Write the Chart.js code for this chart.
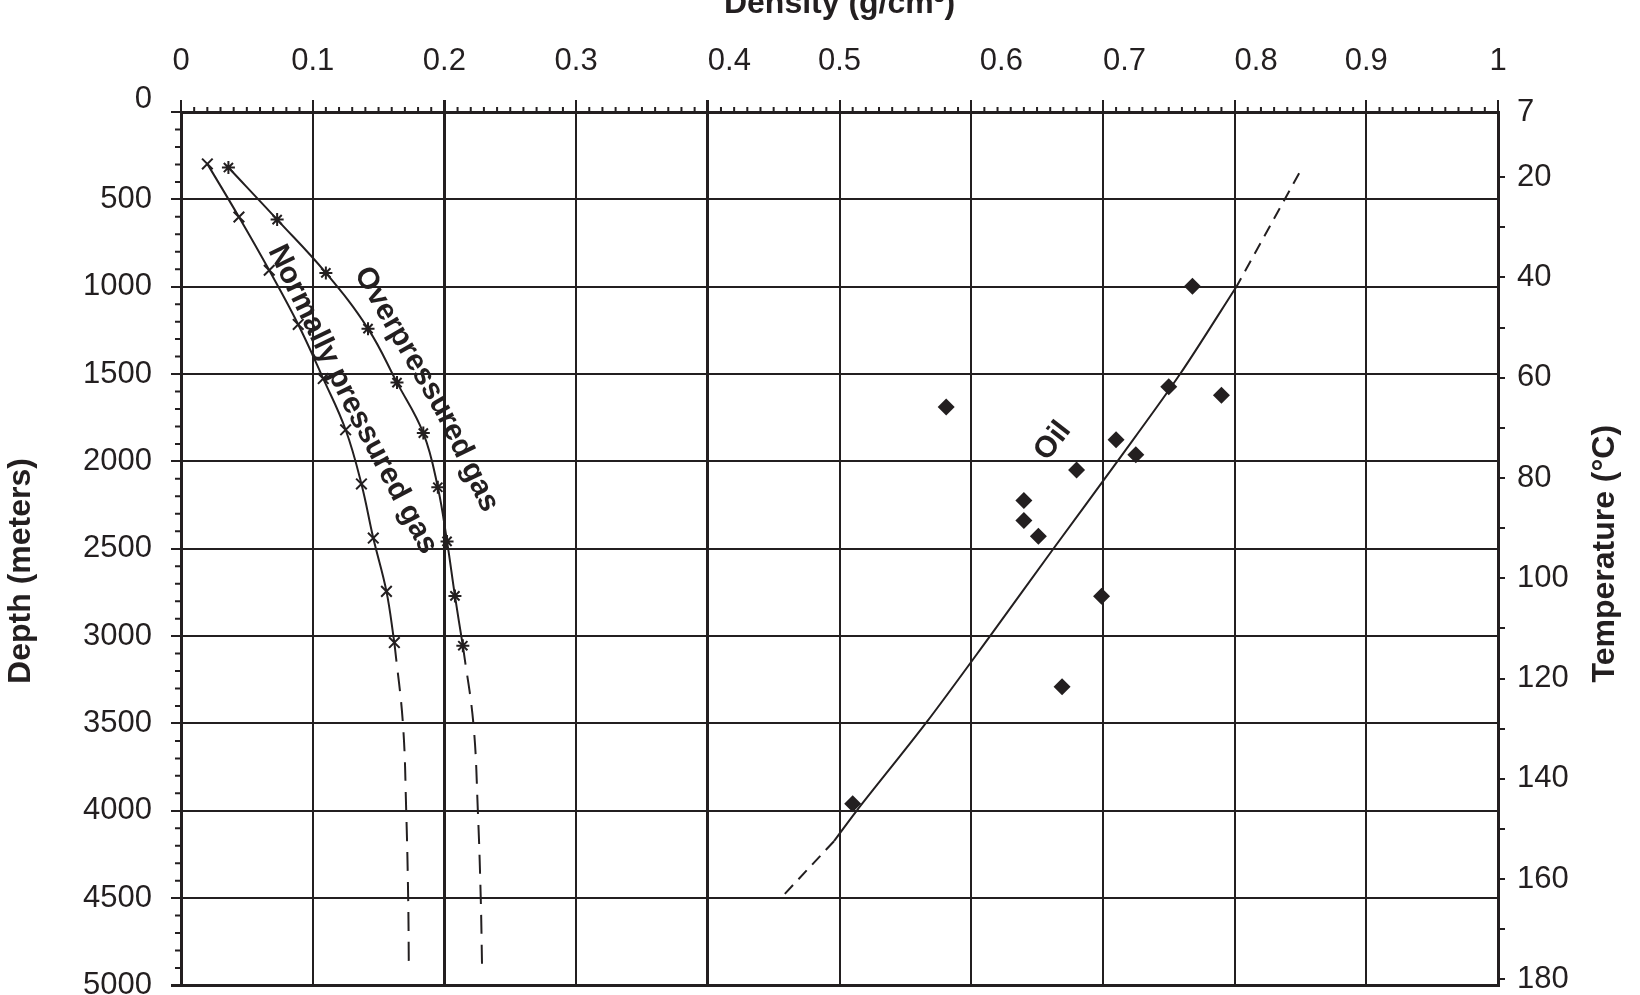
<!DOCTYPE html>
<html>
<head>
<meta charset="utf-8">
<script src="https://cdn.jsdelivr.net/npm/chart.js@4/dist/chart.umd.min.js"></script>
<style>
  html, body { margin: 0; padding: 0; background: #fff; }
  #wrap { width: 1640px; height: 995px; position: relative; }
</style>
</head>
<body>
<div id="wrap"><canvas id="densityChart"></canvas></div>
<script>
// ---- data ----
const densityTicks = [0, 0.1, 0.2, 0.3, 0.4, 0.5, 0.6, 0.7, 0.8, 0.9, 1];
const densityTickLabels = ["0", "0.1", "0.2", "0.3", "0.4", "0.5", "0.6", "0.7", "0.8", "0.9", "1"];
const depthTicks = [0, 500, 1000, 1500, 2000, 2500, 3000, 3500, 4000, 4500, 5000];
const depthTickLabels = ["0", "500", "1000", "1500", "2000", "2500", "3000", "3500", "4000", "4500", "5000"];
const tempTicks = [7, 20, 30, 40, 50, 60, 70, 80, 90, 100, 110, 120, 130, 140, 150, 160, 170, 180];
const tempTickLabels = ["7", "20", "", "40", "", "60", "", "80", "", "100", "", "120", "", "140", "", "160", "", "180"];

// normally pressured gas (x markers)
const normalGasDensity = [0.020, 0.044, 0.067, 0.089, 0.108, 0.125, 0.137, 0.146, 0.156, 0.162];
const normalGasDepth = [297, 601, 906, 1216, 1526, 1819, 2129, 2439, 2744, 3037];
const normalGasExtDensity = [0.162, 0.1685, 0.171, 0.1725, 0.173];
const normalGasExtDepth = [3037, 3500, 4000, 4500, 4895];

// overpressured gas (asterisk markers)
const overGasDensity = [0.036, 0.073, 0.110, 0.142, 0.164, 0.184, 0.195, 0.202, 0.208, 0.214];
const overGasDepth = [318, 616, 921, 1240, 1549, 1838, 2148, 2458, 2770, 3055];
const overGasExtDensity = [0.214, 0.222, 0.2254, 0.2276, 0.2286];
const overGasExtDepth = [3055, 3500, 4000, 4500, 4895];

// oil samples (diamonds)
const oilDensity = [0.768, 0.581, 0.750, 0.790, 0.710, 0.725, 0.680, 0.640, 0.640, 0.651, 0.699, 0.669, 0.510];
const oilDepth = [997, 1688, 1572, 1621, 1876, 1962, 2049, 2224, 2338, 2428, 2772, 3290, 3959];

// oil trend
const oilTrendDensity = [0.8016, 0.7586, 0.711, 0.6624, 0.6143, 0.5654, 0.513, 0.4958];
const oilTrendDepth = [997, 1500, 2000, 2500, 3000, 3500, 4000, 4174];
const oilTrendTopDensity = [0.849, 0.8016];
const oilTrendTopDepth = [350, 997];
const oilTrendBottomDensity = [0.4958, 0.4548];
const oilTrendBottomDepth = [4174, 4505];

const INK = "#231f20";
const FONT = "'Liberation Sans', Arial, Helvetica, sans-serif";

function pts(xs, ys) {
  return xs.map((v, i) => ({ x: v, y: ys[i] }));
}

function labelFor(values, labels, v) {
  const i = values.findIndex((t) => Math.abs(t - v) < 1e-6);
  return i < 0 ? "" : labels[i];
}

// labels written along the curves (path given in density/depth)
const curveLabels = [
  { text: "Normally pressured gas", path: [[0.0734, 800], [0.128, 1650], [0.187, 2490]] },
  { text: "Overpressured gas", path: [[0.1359, 890], [0.1997, 1718], [0.236, 2290]] },
  { text: "Oil", path: [[0.648, 2018], [0.676, 1749]] },
];

const curveLabelPlugin = {
  id: "curveLabels",
  afterDatasetsDraw(chart) {
    const { ctx } = chart;
    const xs = chart.scales.x, ys = chart.scales.y;
    ctx.save();
    ctx.fillStyle = INK;
    ctx.font = "bold 30px " + FONT;
    ctx.textAlign = "center";
    ctx.textBaseline = "middle";
    curveLabels.forEach((lab) => {
      const p = lab.path.map((q) => [xs.getPixelForValue(q[0]), ys.getPixelForValue(q[1])]);
      const seg = [];
      let total = 0;
      for (let i = 1; i < p.length; i++) {
        const len = Math.hypot(p[i][0] - p[i - 1][0], p[i][1] - p[i - 1][1]);
        seg.push(len);
        total += len;
      }
      let s = (total - ctx.measureText(lab.text).width) / 2;
      for (const ch of lab.text) {
        const cw = ctx.measureText(ch).width;
        const at = s + cw / 2;
        let acc = 0, i = 0;
        while (i < seg.length - 1 && acc + seg[i] < at) { acc += seg[i]; i++; }
        const t = (at - acc) / seg[i];
        const [x0, y0] = p[i], [x1, y1] = p[i + 1];
        ctx.save();
        ctx.translate(x0 + (x1 - x0) * t, y0 + (y1 - y0) * t);
        ctx.rotate(Math.atan2(y1 - y0, x1 - x0));
        ctx.fillText(ch, 0, 0);
        ctx.restore();
        s += cw;
      }
    });
    ctx.restore();
  },
};

// small ticks on the depth and density axes, and the right axis title
const axisExtrasPlugin = {
  id: "axisExtras",
  afterDraw(chart) {
    const { ctx, chartArea } = chart;
    const xs = chart.scales.x, ys = chart.scales.y;
    ctx.save();
    ctx.strokeStyle = INK;
    ctx.lineWidth = 2;
    ctx.beginPath();
    for (let d = 100; d < 5000; d += 100) {
      if (d % 500 === 0) continue;
      const py = ys.getPixelForValue(d);
      ctx.moveTo(chartArea.left - 6, py);
      ctx.lineTo(chartArea.left, py);
    }
    for (let i = 1; i < 100; i++) {
      if (i % 10 === 0) continue;
      const px = xs.getPixelForValue(i / 100);
      ctx.moveTo(px, chartArea.top - 5);
      ctx.lineTo(px, chartArea.top);
    }
    ctx.stroke();

    ctx.fillStyle = INK;
    ctx.font = "bold 32px " + FONT;
    ctx.textAlign = "center";
    ctx.textBaseline = "middle";
    ctx.translate(chart.width - 35, (chartArea.top + chartArea.bottom) / 2 + 5);
    ctx.rotate(-Math.PI / 2);
    ctx.fillText("Temperature (°C)", 0, 0);
    ctx.restore();
  },
};

const shifted = { 4: 5, 6: 7, 7: 5, 8: 5 };

const ctx = document.getElementById("densityChart").getContext("2d");

const myChart = new Chart(ctx, {
  type: "scatter",
  data: {
    datasets: [
      {
        label: "Normally pressured gas",
        data: pts(normalGasDensity, normalGasDepth),
        showLine: true,
        tension: 0.4,
        borderColor: INK,
        borderWidth: 2,
        pointStyle: "crossRot",
        pointRadius: 7.5,
        pointBorderWidth: 2,
        pointBorderColor: INK,
      },
      {
        label: "Normally pressured gas (extrapolated)",
        data: pts(normalGasExtDensity, normalGasExtDepth),
        showLine: true,
        tension: 0.4,
        borderColor: INK,
        borderWidth: 2,
        borderDash: [19, 11],
        pointRadius: 0,
      },
      {
        label: "Overpressured gas",
        data: pts(overGasDensity, overGasDepth),
        showLine: true,
        tension: 0.4,
        borderColor: INK,
        borderWidth: 2,
        pointStyle: "star",
        pointRadius: 6.5,
        pointBorderWidth: 2,
        pointBorderColor: INK,
      },
      {
        label: "Overpressured gas (extrapolated)",
        data: pts(overGasExtDensity, overGasExtDepth),
        showLine: true,
        tension: 0.4,
        borderColor: INK,
        borderWidth: 2,
        borderDash: [19, 11],
        pointRadius: 0,
      },
      {
        label: "Oil trend",
        data: pts(oilTrendDensity, oilTrendDepth),
        showLine: true,
        tension: 0.3,
        borderColor: INK,
        borderWidth: 2,
        pointRadius: 0,
      },
      {
        label: "Oil trend (top)",
        data: pts(oilTrendTopDensity, oilTrendTopDepth),
        showLine: true,
        borderColor: INK,
        borderWidth: 2,
        borderDash: [12, 8],
        pointRadius: 0,
      },
      {
        label: "Oil trend (bottom)",
        data: pts(oilTrendBottomDensity, oilTrendBottomDepth),
        showLine: true,
        borderColor: INK,
        borderWidth: 2,
        borderDash: [12, 8],
        pointRadius: 0,
      },
      {
        label: "Oil",
        data: pts(oilDensity, oilDepth),
        showLine: false,
        pointStyle: "rectRot",
        pointRadius: 8.5,
        pointBorderWidth: 0,
        pointBackgroundColor: INK,
        pointBorderColor: INK,
      },
    ],
  },
  options: {
    responsive: true,
    maintainAspectRatio: false,
    animation: false,
    events: [],
    layout: { padding: { top: 0, left: 0, right: 0, bottom: 7 } },
    plugins: {
      legend: { display: false },
      tooltip: { enabled: false },
    },
    scales: {
      x: {
        type: "linear",
        position: "top",
        min: 0,
        max: 1,
        afterBuildTicks: (scale) => {
          scale.ticks = densityTicks.map((v) => ({ value: v }));
        },
        afterFit: (scale) => {
          scale.height = 112;
          scale.paddingLeft = 0;
          scale.paddingRight = 0;
        },
        ticks: {
          autoSkip: false,
          maxRotation: 0,
          padding: 20,
          color: INK,
          font: { family: FONT, size: 31 },
          callback: (value, index) =>
            "\u00a0".repeat(shifted[index] || 0) + labelFor(densityTicks, densityTickLabels, value),
        },
        grid: {
          color: INK,
          lineWidth: (c) => (c.index === 2 || c.index === 4 ? 3 : 2),
          tickLength: 12,
        },
        border: { display: true, color: INK, width: 3 },
        title: {
          display: true,
          text: "Density (g/cm³)",
          color: INK,
          font: { family: FONT, size: 32, weight: "bold", lineHeight: 1 },
          padding: { top: -12, bottom: 0 },
        },
      },
      y: {
        type: "linear",
        position: "left",
        reverse: true,
        min: 0,
        max: 5000,
        afterBuildTicks: (scale) => {
          scale.ticks = depthTicks.map((v) => ({ value: v }));
        },
        afterFit: (scale) => {
          scale.width = 181;
          scale.paddingTop = 0;
          scale.paddingBottom = 0;
        },
        ticks: {
          autoSkip: false,
          padding: 19,
          color: INK,
          font: { family: FONT, size: 31, lineHeight: 0.8 },
          // the top "0" sits a little above its line in the original
          callback: (value) => {
            const lab = labelFor(depthTicks, depthTickLabels, value);
            return value === 0 ? [lab, ""] : lab;
          },
        },
        grid: {
          color: INK,
          lineWidth: (c) => (c.tick && c.tick.value === 5000 ? 3 : 2),
          tickLength: 10,
        },
        border: { display: true, color: INK, width: 3 },
        title: {
          display: true,
          text: "Depth (meters)" + "\u00a0".repeat(5),
          color: INK,
          font: { family: FONT, size: 32, weight: "bold", lineHeight: 1 },
          padding: { top: 5, bottom: 0 },
        },
      },
      y2: {
        type: "linear",
        position: "right",
        reverse: true,
        min: 7,
        max: 181.2,
        afterBuildTicks: (scale) => {
          scale.ticks = tempTicks.map((v) => ({ value: v }));
        },
        afterFit: (scale) => {
          scale.width = 142;
          scale.paddingTop = 0;
          scale.paddingBottom = 0;
        },
        ticks: {
          autoSkip: false,
          padding: 12,
          color: INK,
          font: { family: FONT, size: 31 },
          callback: (value) => labelFor(tempTicks, tempTickLabels, value),
        },
        grid: {
          drawOnChartArea: false,
          tickLength: 7,
          lineWidth: 2,
          tickColor: (c) => (c.tick && c.tick.value === 7 ? "rgba(0,0,0,0)" : INK),
        },
        border: { display: true, color: INK, width: 3 },
      },
    },
  },
  plugins: [curveLabelPlugin, axisExtrasPlugin],
});
</script>
</body>
</html>
